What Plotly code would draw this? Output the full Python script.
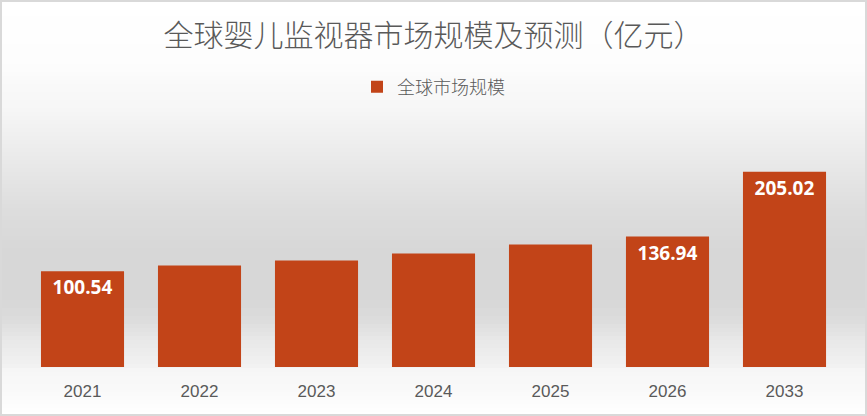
import plotly.graph_objects as go

years = ["2021", "2022", "2023", "2024", "2025", "2026", "2033"]
market_size = [100.54, 106.6, 111.8, 119.2, 128.6, 136.94, 205.02]
shown_labels = ["100.54", "", "", "", "", "136.94", "205.02"]

W, H = 867, 416
ML, MR, MT, MB = 24, 24, 148, 49
plot_w = W - ML - MR
plot_h = H - MT - MB

def py2paper(py):
    return (H - MB - py) / plot_h

def px2paper(px):
    return (px - ML) / plot_w

# background gradient stops (pixel y, gray level)
stops = [(0, 255), (60, 253), (110, 246), (150, 236), (200, 223), (250, 215), (300, 215),
         (320, 220), (340, 232), (366, 242), (367, 246), (395, 250), (416, 255)]

def gray_at(y):
    for (y0, g0), (y1, g1) in zip(stops, stops[1:]):
        if y0 <= y <= y1:
            t = (y - y0) / (y1 - y0) if y1 > y0 else 0
            return round(g0 + (g1 - g0) * t)
    return 255

shapes = []
step = 4
for y in range(0, H, step):
    g = gray_at(y + step / 2)
    shapes.append(dict(type="rect", xref="paper", yref="paper", layer="below",
                       x0=px2paper(0), x1=px2paper(W), y0=py2paper(y + step), y1=py2paper(y),
                       fillcolor=f"rgb({g},{g},{g})", line=dict(width=0)))
shapes.append(dict(type="rect", xref="paper", yref="paper", layer="above",
                   x0=px2paper(1), x1=px2paper(W - 1), y0=py2paper(H - 1), y1=py2paper(1),
                   fillcolor="rgba(0,0,0,0)", line=dict(color="#d9d9d9", width=2)))

fig = go.Figure()
fig.add_trace(go.Bar(
    x=years, y=market_size, name="全球市场规模",
    marker=dict(color="#C24418", line=dict(width=0)),
    text=shown_labels, textposition="inside", insidetextanchor="end",
    textangle=0, constraintext="none",
    textfont=dict(family="Open Sans", size=19, color="white", weight="bold"),
    hoverinfo="x+y",
))

fig.update_layout(
    width=W, height=H,
    margin=dict(l=ML, r=MR, t=MT, b=MB),
    paper_bgcolor="white", plot_bgcolor="rgba(0,0,0,0)",
    bargap=0.29,
    title=dict(text="全球婴儿监视器市场规模及预测（亿元）", x=0.5, xanchor="center",
               y=1 - 35 / H, yanchor="middle", yref="container",
               font=dict(family="Noto Sans CJK SC", size=30, color="#595959", weight=300)),
    showlegend=True,
    legend=dict(orientation="h", x=0.5, xanchor="center", y=py2paper(87), yanchor="middle",
                font=dict(family="Noto Sans CJK SC", size=18, color="#595959", weight=300),
                bgcolor="rgba(0,0,0,0)"),
    xaxis=dict(type="category", showgrid=False, showline=False, zeroline=False, ticks="",
               ticklabelstandoff=12,
               tickfont=dict(family="Liberation Sans Narrow, Liberation Sans", size=17, color="#595959")),
    yaxis=dict(range=[0, 230], visible=False, showgrid=False, zeroline=False),
    shapes=shapes,
)

fig.write_html("out.html", config={"displayModeBar": False},
               post_script="document.body.style.margin='0';document.body.style.overflow='hidden';")
